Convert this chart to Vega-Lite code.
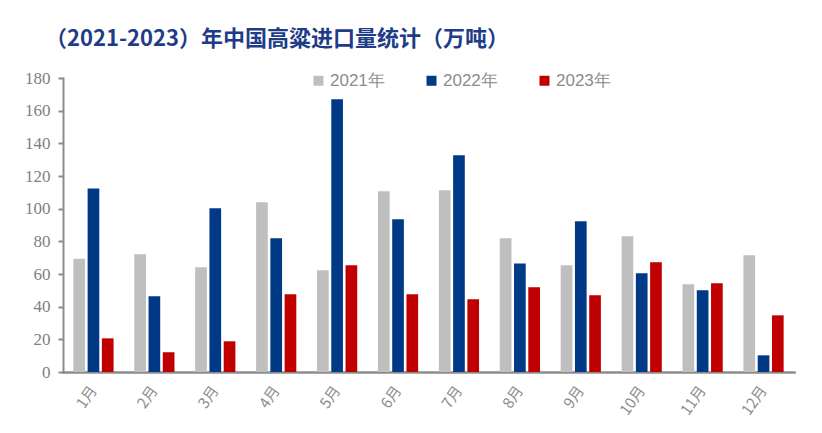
{
  "$schema": "https://vega.github.io/schema/vega-lite/v6.json",
  "width": 731,
  "height": 294,
  "autosize": {"type": "none"},
  "padding": {"left": 63, "top": 78, "right": 28, "bottom": 61},
  "background": "white",
  "title": {
    "text": "（2021-2023）年中国高粱进口量统计（万吨）",
    "anchor": "start",
    "frame": "group",
    "dx": -18,
    "offset": 18,
    "font": "Noto Sans CJK SC",
    "fontSize": 22,
    "fontWeight": "bold",
    "color": "#1F3C88"
  },
  "data": {
    "values": [
      {"month": "1月", "year": "2021年", "value": 69.4},
      {"month": "1月", "year": "2022年", "value": 112.4},
      {"month": "1月", "year": "2023年", "value": 20.6},
      {"month": "2月", "year": "2021年", "value": 72.1},
      {"month": "2月", "year": "2022年", "value": 46.4},
      {"month": "2月", "year": "2023年", "value": 12.1},
      {"month": "3月", "year": "2021年", "value": 64.1},
      {"month": "3月", "year": "2022年", "value": 100.2},
      {"month": "3月", "year": "2023年", "value": 18.8},
      {"month": "4月", "year": "2021年", "value": 103.9},
      {"month": "4月", "year": "2022年", "value": 81.9},
      {"month": "4月", "year": "2023年", "value": 47.6},
      {"month": "5月", "year": "2021年", "value": 62.3},
      {"month": "5月", "year": "2022年", "value": 167.0},
      {"month": "5月", "year": "2023年", "value": 65.3},
      {"month": "6月", "year": "2021年", "value": 110.6},
      {"month": "6月", "year": "2022年", "value": 93.5},
      {"month": "6月", "year": "2023年", "value": 47.6},
      {"month": "7月", "year": "2021年", "value": 111.2},
      {"month": "7月", "year": "2022年", "value": 132.7},
      {"month": "7月", "year": "2023年", "value": 44.5},
      {"month": "8月", "year": "2021年", "value": 81.9},
      {"month": "8月", "year": "2022年", "value": 66.5},
      {"month": "8月", "year": "2023年", "value": 51.9},
      {"month": "9月", "year": "2021年", "value": 65.3},
      {"month": "9月", "year": "2022年", "value": 92.3},
      {"month": "9月", "year": "2023年", "value": 47.0},
      {"month": "10月", "year": "2021年", "value": 83.1},
      {"month": "10月", "year": "2022年", "value": 60.4},
      {"month": "10月", "year": "2023年", "value": 67.2},
      {"month": "11月", "year": "2021年", "value": 53.7},
      {"month": "11月", "year": "2022年", "value": 50.0},
      {"month": "11月", "year": "2023年", "value": 54.3},
      {"month": "12月", "year": "2021年", "value": 71.5},
      {"month": "12月", "year": "2022年", "value": 10.2},
      {"month": "12月", "year": "2023年", "value": 34.7}
    ]
  },
  "mark": {"type": "bar"},
  "encoding": {
    "x": {
      "field": "month",
      "type": "nominal",
      "sort": null,
      "scale": {"paddingInner": 0.34, "paddingOuter": 0.17},
      "axis": {
        "title": null,
        "labelAngle": -55,
        "labelAlign": "right",
        "labelBaseline": "middle",
        "labelFont": "Noto Sans CJK SC",
        "labelFontSize": 15,
        "labelColor": "#8C8C8C",
        "labelPadding": 15,
        "ticks": false,
        "domainColor": "#8C8C8C",
        "domainWidth": 2.5
      }
    },
    "xOffset": {
      "field": "year",
      "type": "nominal",
      "scale": {"paddingInner": 0.18}
    },
    "y": {
      "field": "value",
      "type": "quantitative",
      "scale": {"domain": [0, 180], "nice": false},
      "axis": {
        "title": null,
        "values": [0, 20, 40, 60, 80, 100, 120, 140, 160, 180],
        "grid": false,
        "labelFont": "Liberation Serif",
        "labelFontSize": 17,
        "labelColor": "#7F7F7F",
        "labelPadding": 8,
        "tickColor": "#8C8C8C",
        "tickSize": 5,
        "tickWidth": 2,
        "domainColor": "#8C8C8C",
        "domainWidth": 2
      }
    },
    "color": {
      "field": "year",
      "type": "nominal",
      "scale": {
        "domain": ["2021年", "2022年", "2023年"],
        "range": ["#BFBFBF", "#003A87", "#C00000"]
      },
      "legend": {
        "title": null,
        "orient": "none",
        "direction": "horizontal",
        "legendX": 247,
        "legendY": -6,
        "symbolType": "square",
        "symbolSize": 100,
        "symbolStrokeWidth": 0,
        "labelFont": "Liberation Sans",
        "labelFontSize": 17,
        "labelColor": "#8C8C8C",
        "labelOffset": 3,
        "columnPadding": 38
      }
    }
  },
  "config": {
    "view": {"stroke": null},
    "axis": {"domainCap": "square"}
  }
}
